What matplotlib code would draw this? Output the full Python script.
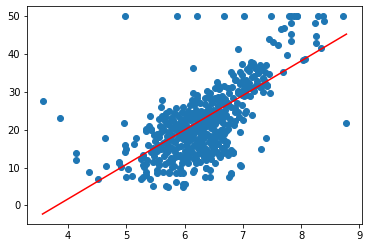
import matplotlib
matplotlib.use("Agg")
import matplotlib.pyplot as plt
import numpy as np

# rooms per dwelling (RM) vs median value (MEDV)
rm = [
    # outliers / periphery
    3.561, 3.863, 4.138, 4.138, 4.368, 4.519, 4.628, 4.652, 4.880, 4.903,
    4.963, 4.970, 4.970, 5.000, 4.970, 5.000, 5.036, 5.093, 5.140, 5.170,
    5.290, 5.330, 5.460, 5.690, 5.860, 5.970, 5.340, 5.430, 5.290, 5.330,
    5.520, 5.740, 5.920, 5.820, 5.400, 5.560, 5.610, 5.590, 5.660,
    5.875, 6.210, 6.683, 7.016, 7.489, 7.802, 7.831, 7.875, 7.923, 7.929,
    8.300, 8.375, 8.725,
    7.663, 7.710, 7.820, 7.830, 7.833, 8.247, 8.398, 8.266, 8.259, 8.337,
    7.454, 7.520, 7.610, 6.920, 7.765, 8.034, 8.069, 6.140, 7.690, 8.780,
    7.148, 7.393, 7.313, 6.968, 6.800, 6.770, 6.350, 6.430, 6.000, 6.833,
    6.683,
    5.390, 5.430, 5.330, 4.870, 5.290, 5.260, 5.310, 5.290, 5.340, 5.260,
    5.400, 5.520, 5.570, 5.630, 5.740, 5.860, 5.920, 5.950, 5.710, 5.970,
    5.460, 5.830, 5.710,
    # upper trend
    7.170, 7.200, 7.230, 7.320, 7.380, 7.350, 7.380, 7.410, 6.550, 6.570,
    6.520, 6.800, 6.830, 6.860, 6.140, 6.230, 6.170, 6.350, 6.400, 6.460,
    6.570, 6.630, 6.690, 6.750, 6.860, 6.920, 7.030, 7.000, 7.290, 7.350,
    6.950, 6.980, 7.000, 7.120, 7.260, 6.750, 6.920, 6.980, 7.030, 7.060,
    7.150, 7.200, 7.230, 6.520, 6.570, 6.630, 6.290, 6.400,
    7.070, 7.110, 7.190, 7.290, 7.350, 6.990, 7.040,
    # lower band
    6.950, 6.800, 6.370, 5.970, 5.950, 6.140, 6.170, 6.370, 6.430, 6.520,
    6.200, 6.170, 6.660, 6.720, 6.800, 6.830, 6.600, 6.660, 6.750, 6.490,
    6.430, 6.370, 6.320, 6.000, 6.060, 6.030, 6.230, 6.260, 6.290,
    6.21, 6.25, 6.31, 6.34, 6.39, 6.42, 6.45, 6.48, 6.51, 6.53,
    6.56, 6.58, 6.61, 6.64, 6.67, 6.70, 6.73, 6.71, 6.65, 6.59,
    6.52, 6.46, 6.36, 6.27, 6.19, 6.08, 6.11, 6.06, 6.77, 6.86,
    5.45, 5.48, 5.50, 5.42, 5.38, 5.47, 5.36, 5.53, 5.66, 5.78,
    # core
    5.52, 5.55, 5.57, 5.60, 5.62, 5.64, 5.66, 5.68, 5.70, 5.53,
    5.58, 5.61, 5.63, 5.65, 5.67, 5.69, 5.56, 5.59, 5.68, 5.70,
    5.71, 5.72, 5.73, 5.74, 5.75, 5.76, 5.77, 5.78, 5.79, 5.80,
    5.81, 5.82, 5.83, 5.84, 5.85, 5.86, 5.87, 5.88, 5.89, 5.90,
    5.73, 5.79, 5.85, 5.76, 5.81, 5.88,
    5.91, 5.92, 5.93, 5.94, 5.95, 5.96, 5.97, 5.98, 5.99, 6.00,
    6.01, 6.02, 6.03, 6.04, 6.05, 6.06, 6.07, 6.08, 6.09, 6.10,
    5.93, 5.96, 6.02, 6.05, 6.10, 5.98, 6.07, 5.94, 6.00, 6.03,
    6.11, 6.12, 6.13, 6.14, 6.15, 6.16, 6.17, 6.18, 6.19, 6.20,
    6.21, 6.22, 6.23, 6.24, 6.25, 6.26, 6.27, 6.28, 6.29, 6.30,
    6.13, 6.18, 6.24, 6.28, 6.12, 6.21, 6.26, 6.17, 6.22, 6.15,
    6.31, 6.32, 6.33, 6.34, 6.35, 6.36, 6.37, 6.38, 6.39, 6.40,
    6.41, 6.42, 6.43, 6.44, 6.45, 6.46, 6.47, 6.48, 6.49, 6.50,
    6.33, 6.41, 6.47, 6.38, 6.44, 6.35, 6.49,
    6.51, 6.52, 6.53, 6.54, 6.55, 6.56, 6.57, 6.58, 6.59, 6.60,
    6.61, 6.62, 6.63, 6.64, 6.65, 6.66, 6.67, 6.68, 6.69, 6.70,
    6.55, 6.62, 6.68,
    6.72, 6.74, 6.76, 6.78, 6.80, 6.82, 6.84, 6.86, 6.88, 6.90,
    6.92, 6.94, 6.96, 6.98, 7.00, 6.75, 6.85, 6.95,
    7.02, 7.05, 7.08, 7.10, 7.13, 7.16, 7.18, 7.21, 7.24, 7.27,
    7.30, 7.33, 7.36, 7.40, 7.42, 7.45, 7.47, 7.06, 7.15,
]
medv = [
    27.5, 23.1, 13.8, 11.9, 8.8, 7.0, 17.8, 10.4, 11.6, 10.2,
    21.9, 50.0, 16.1, 14.9, 14.0, 7.4, 9.6, 7.8, 16.2, 17.8,
    7.4, 8.1, 5.2, 5.2, 6.1, 5.6, 19.7, 20.2, 12.7, 10.9,
    8.5, 8.5, 8.5, 10.5, 23.5, 22.8, 27.9, 26.1, 23.3,
    50.0, 50.0, 50.0, 50.0, 50.0, 50.0, 50.0, 50.0, 50.0, 50.0,
    50.0, 50.0, 50.0,
    46.7, 46.9, 48.1, 45.4, 43.5, 48.3, 48.8, 44.8, 42.8, 41.7,
    43.9, 43.1, 42.3, 41.3, 39.8, 38.3, 38.7, 36.2, 35.2, 21.9,
    38.0, 17.8, 14.9, 10.4, 8.3, 7.6, 7.4, 7.4, 5.6, 14.0,
    21.5,
    21.0, 19.9, 20.1, 11.1, 13.3, 12.4, 10.2, 10.7, 8.9, 7.1,
    7.1, 9.3, 10.7, 8.9, 8.9, 8.5, 9.8, 11.1, 4.9, 4.9,
    11.5, 12.9, 11.5,
    37.6, 36.7, 36.2, 35.8, 35.3, 33.6, 32.3, 31.8, 32.7, 31.8,
    30.9, 35.3, 34.5, 33.1, 29.6, 27.4, 27.0, 28.3, 28.7, 27.9,
    28.7, 27.6, 26.9, 26.5, 25.7, 24.8, 24.3, 22.6, 31.4, 31.8,
    35.3, 34.5, 33.1, 36.7, 34.9, 30.9, 30.1, 29.2, 30.5, 29.2,
    30.9, 30.1, 31.8, 28.3, 26.5, 27.4, 24.8, 24.8,
    36.0, 32.4, 34.1, 37.2, 29.9, 37.3, 31.6,
    10.7, 8.5, 9.8, 8.5, 8.9, 8.9, 9.3, 9.8, 9.5, 11.1,
    11.1, 12.4, 17.3, 15.9, 14.6, 13.8, 13.3, 13.8, 13.3, 14.6,
    13.8, 12.0, 13.3, 12.0, 11.1, 13.3, 15.1, 16.4, 17.3,
    15.6, 13.9, 16.2, 12.7, 14.4, 16.8, 12.3, 13.6, 15.3, 17.9,
    14.0, 16.3, 12.7, 15.1, 17.2, 14.3, 16.7, 19.6, 19.8, 18.6,
    18.8, 17.5, 18.9, 11.5, 12.6, 12.9, 15.3, 17.8, 21.4, 22.3,
    15.2, 13.0, 17.0, 14.2, 16.0, 18.6, 12.0, 11.6, 11.0, 10.2,
    14.4, 16.1, 18.2, 19.4, 20.6, 13.1, 15.0, 17.1, 21.5, 18.9,
    21.0, 23.6, 16.6, 19.9, 22.2, 13.9, 12.0, 14.8, 24.4, 18.4,
    14.3, 16.0, 19.3, 21.9, 17.5, 23.1, 12.6, 15.2, 18.6, 20.4,
    22.6, 24.5, 14.0, 16.7, 19.8, 21.4, 23.8, 17.8, 13.1, 20.9,
    25.0, 11.8, 25.8, 20.6, 17.0, 15.4,
    18.9, 21.7, 23.1, 15.6, 20.4, 24.7, 17.5, 19.6, 22.0, 14.5,
    18.9, 21.2, 23.9, 16.6, 20.0, 25.0, 14.8, 19.1, 22.6, 17.4,
    13.2, 12.5, 11.9, 13.5, 26.4, 26.0, 23.3, 19.0, 22.9, 16.0,
    20.3, 22.8, 24.4, 18.5, 21.0, 16.1, 23.7, 19.6, 25.3, 20.8,
    22.2, 17.2, 24.1, 19.3, 21.6, 23.0, 18.0, 20.1, 25.0, 22.4,
    14.1, 13.4, 14.9, 15.6, 27.9, 28.4, 27.1, 26.5, 29.1, 17.8,
    19.4, 21.7, 23.8, 17.8, 20.6, 24.8, 15.0, 22.5, 19.0, 26.0,
    21.6, 23.3, 28.7, 18.3, 24.3, 20.5, 22.0, 27.1, 25.2, 19.9,
    14.2, 13.0, 15.6, 30.1, 29.6, 26.7, 17.1,
    23.1, 25.0, 21.4, 28.0, 24.4, 19.5, 26.2, 22.6, 30.8, 23.7,
    27.5, 20.0, 24.8, 29.0, 22.0, 26.7, 31.6, 23.3, 28.2, 25.1,
    16.5, 17.8, 19.0,
    24.0, 27.0, 29.8, 22.8, 25.9, 31.2, 28.4, 24.6, 33.0, 27.1,
    29.6, 23.3, 32.0, 26.6, 30.4, 20.1, 21.2, 19.4,
    28.8, 33.2, 31.0, 35.4, 29.0, 33.8, 30.5, 36.4, 32.9, 34.9,
    31.5, 36.0, 33.2, 37.0, 31.6, 34.6, 29.6, 25.0, 23.8,
]

# fitted line (medv = slope * rm + intercept)
slope = 9.102
intercept = -34.671

x = np.array(rm)
y = np.array(medv)

fig = plt.figure(figsize=(369 / 72, 248 / 72), dpi=72)
ax = fig.add_axes([0.074, 0.097, 0.906, 0.878])
ax.scatter(x, y)
xs = np.sort(x)
ax.plot(xs, slope * xs + intercept, color='red')
ax.set_yticks([0, 10, 20, 30, 40, 50])

fig.savefig("out.png", dpi=72)
